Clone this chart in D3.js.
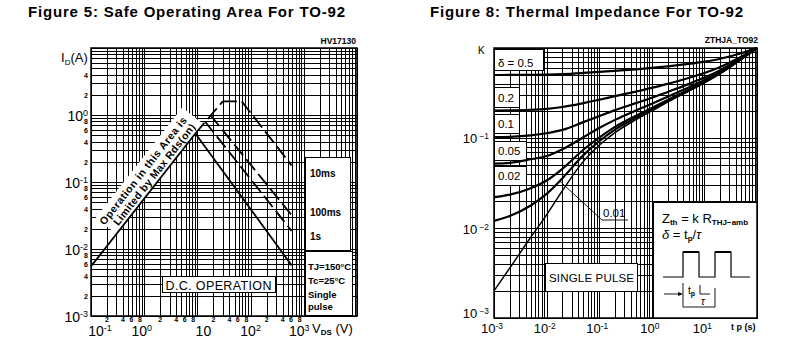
<!DOCTYPE html>
<html>
<head>
<meta charset="utf-8">
<script src="https://cdn.jsdelivr.net/npm/d3@7"></script>
<style>
  body { margin: 0; background: #fff; }
  svg { font-family: Arial, "Liberation Sans", sans-serif; }
</style>
</head>
<body>
<svg id="chart" width="803" height="353"></svg>
<script>
// ---------- Figure 5 : safe operating area ----------
var soaXMajor = [0.1, 1, 10, 100, 1000];
var soaXMajorExp = ["-1", "0", "", "2", "3"];
var soaXMajorShift = [9, -2.5, 6, 0, -4.5];
var soaYMajor = [0.001, 0.01, 0.1, 1];
var soaYMajorExp = ["-3", "-2", "-1", "0"];
var soaXMinor = [0.2, 0.4, 0.6, 0.8, 2, 4, 6, 8, 20, 40, 60, 80, 200, 400, 600, 800];
var soaYMinor = [0.002, 0.004, 0.006, 0.008, 0.02, 0.04, 0.06, 0.08, 0.2, 0.4, 0.6, 0.8, 2, 4];

// [Vds (V), Id (A)]
var rdsLimit = [[0.1, 0.0055], [9.15, 0.53]];
var rdsLimitPulse = [[9.15, 0.53], [30, 1.6]];
var soa10ms = [[30, 1.6], [68, 1.6], [590, 0.177]];
var soa100ms = [[17.5, 1.0], [590, 0.032]];
var soa1s = [[13.9, 0.8], [590, 0.0186]];
var soaDC = [[9.15, 0.53], [590, 0.0057]];
var soaPulseLabels = ["10ms", "100ms", "1s"];
var soaCondLabels = ["TJ=150°C", "Tc=25°C", "Single", "pulse"];

// ---------- Figure 8 : thermal impedance ----------
var zthXMajor = [0.001, 0.01, 0.1, 1, 10];
var zthXMajorExp = ["-3", "-2", "-1", "0", "1"];
var zthYMajor = [0.001, 0.01, 0.1];
var zthYMajorExp = ["\u22123", "\u22122", "\u22121"];
var zthYLabelDy = [0, 6, 5];

var tp = [0.001, 0.002, 0.005, 0.01, 0.02, 0.05, 0.1, 0.2, 0.5, 1, 2, 5, 10, 20, 50, 100];
var kDelta05 = [0.501, 0.502, 0.504, 0.507, 0.513, 0.528, 0.542, 0.558, 0.58, 0.6, 0.625, 0.665, 0.705, 0.76, 0.875, 1.0];
var kDelta02 = [0.202, 0.203, 0.206, 0.211, 0.221, 0.244, 0.266, 0.292, 0.328, 0.36, 0.4, 0.464, 0.528, 0.616, 0.8, 1.0];
var kDelta01 = [0.102, 0.103, 0.107, 0.113, 0.123, 0.15, 0.175, 0.204, 0.244, 0.28, 0.325, 0.397, 0.469, 0.568, 0.775, 1.0];
var kDelta005 = [0.052, 0.053, 0.058, 0.063, 0.075, 0.102, 0.129, 0.159, 0.202, 0.24, 0.288, 0.364, 0.44, 0.544, 0.763, 1.0];
var kDelta002 = [0.022, 0.0235, 0.0277, 0.0337, 0.0455, 0.074, 0.101, 0.133, 0.177, 0.216, 0.265, 0.343, 0.422, 0.53, 0.755, 1.0];
var kDelta001 = [0.012, 0.0136, 0.0178, 0.0239, 0.0357, 0.0645, 0.092, 0.124, 0.168, 0.208, 0.258, 0.337, 0.416, 0.525, 0.752, 1.0];
var kSingle = [0.002, 0.0036, 0.0079, 0.014, 0.026, 0.055, 0.083, 0.115, 0.16, 0.2, 0.25, 0.33, 0.41, 0.52, 0.75, 1.0];
var deltaLabels = ["\u03b4 = 0.5", "0.2", "0.1", "0.05", "0.02"];

var svg = d3.select("#chart");

function powLabel(g, x, y, exp, anchor, size) {
  var t = g.append("text")
    .attr("x", x)
    .attr("y", y)
    .attr("text-anchor", anchor)
    .style("font-size", size + "px");
  t.append("tspan").text("10");
  if (exp !== "") {
    t.append("tspan")
      .attr("dy", -size * 0.33)
      .style("font-size", (size * 0.64) + "px")
      .text(exp);
  }
  return t;
}

function firstDigit(v) {
  return Math.round(v / Math.pow(10, Math.floor(Math.log10(v) + 1e-9)));
}

function isDecade(d) {
  return Math.abs(Math.log10(d) - Math.round(Math.log10(d))) < 1e-6;
}

function drawGrid(g, x, y) {
  g.selectAll(".vgrid")
    .data(x.ticks())
    .enter().append("line")
      .attr("x1", d => Math.round(x(d)) + 0.5).attr("x2", d => Math.round(x(d)) + 0.5)
      .attr("y1", y.range()[1]).attr("y2", y.range()[0])
      .style("stroke", "#000")
      .style("stroke-width", d => isDecade(d) ? 1.5 : 1)
      .style("shape-rendering", "crispEdges");
  g.selectAll(".hgrid")
    .data(y.ticks())
    .enter().append("line")
      .attr("y1", d => Math.round(y(d)) + 0.5).attr("y2", d => Math.round(y(d)) + 0.5)
      .attr("x1", x.range()[0]).attr("x2", x.range()[1])
      .style("stroke", "#000")
      .style("stroke-width", d => isDecade(d) ? 1.5 : 1)
      .style("shape-rendering", "crispEdges");
}

drawSoa();
drawZth();

function drawSoa() {
  var x = d3.scaleLog().domain([0.1, 10000]).range([91, 357]);
  var y = d3.scaleLog().domain([0.001, 10]).range([316, 48]);
  var g = svg.append("g");

  g.append("text")
    .attr("x", 28).attr("y", 17)
    .text("Figure 5: Safe Operating Area For TO-92")
    .style("font-weight", "bold").style("font-size", "15px")
    .attr("textLength", 317);

  g.append("text")
    .attr("x", 356).attr("y", 44)
    .attr("text-anchor", "end")
    .text("HV17130")
    .style("font-weight", "bold").style("font-size", "8.5px");

  drawGrid(g, x, y);

  // label boxes on the right
  g.append("rect").attr("x", 305.5).attr("y", 157.5).attr("width", 45).attr("height", 93)
    .style("fill", "#fff").style("stroke", "#000").style("stroke-width", 1);
  g.append("rect").attr("x", 305.5).attr("y", 251.5).attr("width", 47).attr("height", 64)
    .style("fill", "#fff").style("stroke", "#000").style("stroke-width", 1);

  var pulseY = [177, 216, 240];
  soaPulseLabels.forEach(function (s, i) {
    g.append("text").attr("x", 310).attr("y", pulseY[i]).text(s)
      .style("font-size", "10px").style("font-weight", "bold");
  });
  var condY = [270, 284, 298, 310];
  soaCondLabels.forEach(function (s, i) {
    g.append("text").attr("x", 308).attr("y", condY[i]).text(s)
      .style("font-size", "9.5px").style("font-weight", "bold");
  });

  // D.C. operation box
  g.append("rect").attr("x", 162.5).attr("y", 276.5).attr("width", 113).attr("height", 16)
    .style("fill", "#fff").style("stroke", "#000").style("stroke-width", 1);
  g.append("text").attr("x", 218.5).attr("y", 289.5)
    .attr("text-anchor", "middle")
    .text("D.C.  OPERATION")
    .style("font-size", "12.5px")
    .attr("textLength", 106);

  // Rds(on) text along the limit line
  var p0 = [x(rdsLimit[0][0]), y(rdsLimit[0][1])];
  var p1 = [x(rdsLimit[1][0]), y(rdsLimit[1][1])];
  var ang = Math.atan2(p1[1] - p0[1], p1[0] - p0[0]) * 180 / Math.PI;
  var tg = g.append("g")
    .attr("transform", "translate(" + x(2.0) + "," + y(2.0 / 18.2) + ")rotate(" + ang + ")");
  tg.append("rect").attr("x", -70).attr("y", -27).attr("width", 140).attr("height", 26)
    .style("fill", "#fff");
  tg.append("text").attr("x", -4).attr("y", -15)
    .attr("text-anchor", "middle")
    .text("Operation in this Area is")
    .style("font-size", "10.5px").style("font-weight", "bold")
    .attr("textLength", 134).attr("lengthAdjust", "spacing");
  tg.append("text").attr("x", 0).attr("y", -4)
    .attr("text-anchor", "middle")
    .text("Limited by Max Rds(on)")
    .style("font-size", "10.5px").style("font-weight", "bold")
    .attr("textLength", 126).attr("lengthAdjust", "spacing");

  var line = d3.line().x(d => x(d[0])).y(d => y(d[1]));

  g.append("path").datum(rdsLimit).attr("d", line)
    .style("fill", "none").style("stroke", "#000").style("stroke-width", 1.8);
  g.append("path").datum(soaDC).attr("d", line)
    .style("fill", "none").style("stroke", "#000").style("stroke-width", 1.8);
  [rdsLimitPulse, soa10ms, soa100ms, soa1s].forEach(function (s) {
    g.append("path").datum(s).attr("d", line)
      .style("fill", "none").style("stroke", "#000").style("stroke-width", 1.8)
      .style("stroke-dasharray", "14,5");
  });

  // border
  g.append("rect")
    .attr("x", x.range()[0]).attr("y", y.range()[1])
    .attr("width", x.range()[1] - x.range()[0])
    .attr("height", y.range()[0] - y.range()[1])
    .style("fill", "none").style("stroke", "#000").style("stroke-width", 1.5);

  // tick labels
  soaXMajor.forEach(function (v, i) {
    powLabel(g, x(v) + soaXMajorShift[i], 336, soaXMajorExp[i], "middle", 14);
  });
  soaXMinor.forEach(function (v) {
    var dg = firstDigit(v);
    g.append("text")
      .attr("x", x(v) + (dg === 6 ? -1 : dg === 8 ? 1 : 0))
      .attr("y", 322)
      .attr("text-anchor", "middle")
      .style("font-size", "7px")
      .style("font-weight", "bold")
      .text(dg);
  });
  soaYMajor.forEach(function (v, i) {
    powLabel(g, 88, y(v) + 6, soaYMajorExp[i], "end", 14);
  });
  soaYMinor.forEach(function (v) {
    g.append("text").attr("x", 88).attr("y", y(v) + 3)
      .attr("text-anchor", "end")
      .text(firstDigit(v))
      .style("font-size", "7px").style("font-weight", "bold");
  });

  // axis titles
  var yt = g.append("text").attr("x", 61).attr("y", 62).style("font-size", "13px");
  yt.append("tspan").text("I");
  yt.append("tspan").attr("dy", 3).style("font-size", "8px").text("D");
  yt.append("tspan").attr("dy", -3).text("(A)");

  var xt = g.append("text").attr("x", 312).attr("y", 333).style("font-size", "13px");
  xt.append("tspan").text("V");
  xt.append("tspan").attr("dy", 2).style("font-size", "8px").style("font-weight", "bold").text("DS");
  xt.append("tspan").attr("dy", -2).text(" (V)");
}

function drawZth() {
  var x = d3.scaleLog().domain([0.001, 100]).range([494, 757]);
  var y = d3.scaleLog().domain([0.001, 1]).range([318, 48]);
  var g = svg.append("g");

  g.append("text")
    .attr("x", 430).attr("y", 17)
    .text("Figure 8: Thermal Impedance For TO-92")
    .style("font-weight", "bold").style("font-size", "15px")
    .attr("textLength", 313);

  g.append("text")
    .attr("x", 758).attr("y", 43)
    .attr("text-anchor", "end")
    .text("ZTHJA_TO92")
    .style("font-weight", "bold").style("font-size", "8.5px");

  drawGrid(g, x, y);

  // delta label boxes
  var boxes = [[494.5, 49.5, 49, 21, 67], [494.5, 87.5, 25, 20, 102], [494.5, 114.5, 25, 19, 128], [494.5, 141.5, 32, 19, 155], [494.5, 166.5, 32, 19, 180]];
  deltaLabels.forEach(function (s, i) {
    var b = boxes[i];
    g.append("rect").attr("x", b[0]).attr("y", b[1]).attr("width", b[2]).attr("height", b[3])
      .style("fill", "#fff").style("stroke", "#000").style("stroke-width", 1);
    g.append("text").attr("x", 498).attr("y", b[4]).text(s)
      .style("font-size", "11.5px");
  });

  // single pulse box
  g.append("rect").attr("x", 545.5).attr("y", 263.5).attr("width", 92).attr("height", 28)
    .style("fill", "#fff").style("stroke", "#000").style("stroke-width", 1);
  g.append("text").attr("x", 549).attr("y", 282).text("SINGLE  PULSE")
    .style("font-size", "11.5px").attr("textLength", 85);

  // legend box
  g.append("rect").attr("x", 653.5).attr("y", 202.5).attr("width", 104).attr("height", 116)
    .style("fill", "#fff").style("stroke", "#000").style("stroke-width", 1);

  var l1 = g.append("text").attr("x", 662).attr("y", 223).style("font-size", "13px");
  l1.append("tspan").text("Z");
  l1.append("tspan").attr("dy", 2).style("font-size", "8px").style("font-weight", "bold").text("th");
  l1.append("tspan").attr("dy", -2).text(" = k R");
  l1.append("tspan").attr("dy", 2).style("font-size", "8px").style("font-weight", "bold").text("THJ\u2212amb");
  var l2 = g.append("text").attr("x", 662).attr("y", 239).style("font-size", "13px");
  l2.append("tspan").style("font-style", "italic").text("\u03b4");
  l2.append("tspan").text(" = t");
  l2.append("tspan").attr("dy", 2).style("font-size", "8px").style("font-weight", "bold").text("p");
  l2.append("tspan").attr("dy", -2).text("/");
  l2.append("tspan").style("font-style", "italic").text("\u03c4");

  // pulse train sketch
  var wave = [[663, 277], [683, 277], [683, 252], [699, 252], [699, 277], [715, 277], [715, 252], [731, 252], [731, 277], [750, 277]];
  g.append("path").attr("d", d3.line()(wave))
    .style("fill", "none").style("stroke", "#000").style("stroke-width", 1.2);
  g.append("path").attr("d", d3.line()([[683, 252], [699, 252]])).style("stroke", "#000").style("stroke-width", 2);
  g.append("path").attr("d", d3.line()([[715, 252], [731, 252]])).style("stroke", "#000").style("stroke-width", 2);
  g.append("path").attr("d", d3.line()([[664, 294], [681, 294]])).style("stroke", "#000").style("stroke-width", 0.9);
  g.append("path").attr("d", "M683,294 L678,292 L678,296 Z").style("fill", "#000");
  g.append("path").attr("d", d3.line()([[683, 283], [683, 307], [715, 307], [715, 288]]))
    .style("fill", "none").style("stroke", "#000").style("stroke-width", 0.9);
  g.append("path").attr("d", d3.line()([[700, 285], [700, 294], [710, 294]]))
    .style("fill", "none").style("stroke", "#000").style("stroke-width", 0.9);
  var tpL = g.append("text").attr("x", 688).attr("y", 294).style("font-size", "10px");
  tpL.append("tspan").text("t");
  tpL.append("tspan").attr("dy", 2).style("font-size", "7px").style("font-weight", "bold").text("p");
  g.append("text").attr("x", 701).attr("y", 305).text("\u03c4")
    .style("font-size", "10px").style("font-style", "italic");

  // curves
  var line = d3.line()
    .x(d => x(d[0])).y(d => y(d[1]))
    .curve(d3.curveMonotoneX);
  var series = [kDelta05, kDelta02, kDelta01, kDelta005, kDelta002, kDelta001];
  series.forEach(function (s) {
    g.append("path").datum(tp.map((t, i) => [t, s[i]])).attr("d", line)
      .style("fill", "none").style("stroke", "#000").style("stroke-width", 2.2);
  });
  g.append("path").datum(tp.map((t, i) => [t, kSingle[i]])).attr("d", line)
    .style("fill", "none").style("stroke", "#000").style("stroke-width", 1.5);

  // 0.01 leader
  g.append("path").attr("d", d3.line()([[x(0.018), y(0.033)], [602, 220], [628, 220]]))
    .style("fill", "none").style("stroke", "#000").style("stroke-width", 0.9);
  g.append("text").attr("x", 603).attr("y", 217).text("0.01").style("font-size", "11.5px");

  g.append("rect")
    .attr("x", x.range()[0]).attr("y", y.range()[1])
    .attr("width", x.range()[1] - x.range()[0])
    .attr("height", y.range()[0] - y.range()[1])
    .style("fill", "none").style("stroke", "#000").style("stroke-width", 1.5);

  // tick labels
  zthXMajor.forEach(function (v, i) {
    powLabel(g, x(v) - 2, 333, zthXMajorExp[i], "middle", 13);
  });
  zthYMajor.forEach(function (v, i) {
    powLabel(g, 489, y(v) + zthYLabelDy[i], " " + zthYMajorExp[i], "end", 13);
  });
  g.append("text").attr("x", 478).attr("y", 54).text("K").style("font-size", "10px");

  g.append("text").attr("x", 731).attr("y", 330)
    .style("font-size", "9px").style("font-weight", "bold")
    .text("t p (s)");
}
</script>
</body>
</html>
